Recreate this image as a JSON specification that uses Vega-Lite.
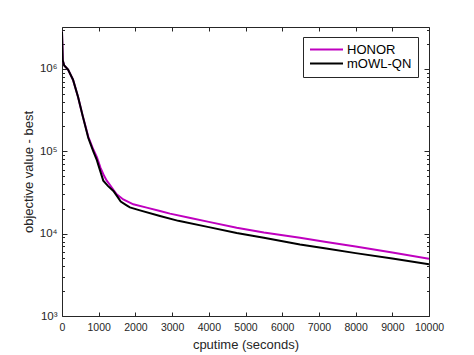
{
  "$schema": "https://vega.github.io/schema/vega-lite/v6.json",
  "width": 367,
  "height": 289,
  "autosize": "none",
  "padding": {"left": 62, "top": 27, "right": 45, "bottom": 39},
  "background": "white",
  "config": {
    "view": {"stroke": null},
    "font": "Liberation Sans",
    "axis": {
      "grid": false,
      "domainColor": "#262626",
      "tickColor": "#262626",
      "labelColor": "#262626",
      "titleColor": "#262626",
      "labelFont": "Liberation Sans",
      "titleFont": "Liberation Sans",
      "labelFontSize": 10.5,
      "titleFontSize": 13,
      "titleFontWeight": "normal",
      "labelFlush": false,
      "labelOverlap": false,
      "labelBound": false
    }
  },
  "data": {
    "values": [
      {"method": "HONOR", "t": 0, "v": 2830000},
      {"method": "HONOR", "t": 20, "v": 1270000},
      {"method": "HONOR", "t": 60, "v": 1100000},
      {"method": "HONOR", "t": 165, "v": 980000},
      {"method": "HONOR", "t": 300, "v": 740000},
      {"method": "HONOR", "t": 436, "v": 460000},
      {"method": "HONOR", "t": 572, "v": 260000},
      {"method": "HONOR", "t": 717, "v": 150000},
      {"method": "HONOR", "t": 853, "v": 105000},
      {"method": "HONOR", "t": 950, "v": 85000},
      {"method": "HONOR", "t": 1050, "v": 63000},
      {"method": "HONOR", "t": 1150, "v": 50000},
      {"method": "HONOR", "t": 1220, "v": 44000},
      {"method": "HONOR", "t": 1308, "v": 39000},
      {"method": "HONOR", "t": 1400, "v": 34000},
      {"method": "HONOR", "t": 1490, "v": 30000},
      {"method": "HONOR", "t": 1670, "v": 26000},
      {"method": "HONOR", "t": 1943, "v": 22700},
      {"method": "HONOR", "t": 2308, "v": 20700},
      {"method": "HONOR", "t": 2670, "v": 18800},
      {"method": "HONOR", "t": 2943, "v": 17500},
      {"method": "HONOR", "t": 3500, "v": 15500},
      {"method": "HONOR", "t": 4000, "v": 13900},
      {"method": "HONOR", "t": 4760, "v": 11800},
      {"method": "HONOR", "t": 5500, "v": 10300},
      {"method": "HONOR", "t": 6485, "v": 8900},
      {"method": "HONOR", "t": 7200, "v": 7900},
      {"method": "HONOR", "t": 8000, "v": 7000},
      {"method": "HONOR", "t": 9000, "v": 5900},
      {"method": "HONOR", "t": 10000, "v": 4950},
      {"method": "mOWL-QN", "t": 0, "v": 2830000},
      {"method": "mOWL-QN", "t": 20, "v": 1270000},
      {"method": "mOWL-QN", "t": 60, "v": 1100000},
      {"method": "mOWL-QN", "t": 165, "v": 980000},
      {"method": "mOWL-QN", "t": 300, "v": 740000},
      {"method": "mOWL-QN", "t": 436, "v": 460000},
      {"method": "mOWL-QN", "t": 572, "v": 260000},
      {"method": "mOWL-QN", "t": 717, "v": 145000},
      {"method": "mOWL-QN", "t": 853, "v": 100000},
      {"method": "mOWL-QN", "t": 950, "v": 78000},
      {"method": "mOWL-QN", "t": 1000, "v": 66000},
      {"method": "mOWL-QN", "t": 1125, "v": 44000},
      {"method": "mOWL-QN", "t": 1250, "v": 38000},
      {"method": "mOWL-QN", "t": 1400, "v": 33000},
      {"method": "mOWL-QN", "t": 1500, "v": 28500},
      {"method": "mOWL-QN", "t": 1600, "v": 24500},
      {"method": "mOWL-QN", "t": 1750, "v": 22200},
      {"method": "mOWL-QN", "t": 1850, "v": 20800},
      {"method": "mOWL-QN", "t": 2100, "v": 19300},
      {"method": "mOWL-QN", "t": 2670, "v": 16400},
      {"method": "mOWL-QN", "t": 3170, "v": 14300},
      {"method": "mOWL-QN", "t": 4000, "v": 12000},
      {"method": "mOWL-QN", "t": 4760, "v": 10200},
      {"method": "mOWL-QN", "t": 5500, "v": 8900},
      {"method": "mOWL-QN", "t": 6485, "v": 7400},
      {"method": "mOWL-QN", "t": 7200, "v": 6600},
      {"method": "mOWL-QN", "t": 8000, "v": 5800},
      {"method": "mOWL-QN", "t": 9000, "v": 5000},
      {"method": "mOWL-QN", "t": 10000, "v": 4250}
    ]
  },
  "layer": [
    {
      "mark": {"type": "line", "strokeWidth": 2, "clip": true},
      "encoding": {
        "x": {
          "field": "t", "type": "quantitative",
          "scale": {"domain": [0, 10000], "nice": false},
          "axis": {
            "orient": "bottom",
            "title": "cputime (seconds)",
            "values": [0, 1000, 2000, 3000, 4000, 5000, 6000, 7000, 8000, 9000, 10000],
            "format": "d",
            "tickSize": -4,
            "labelPadding": 10,
            "titlePadding": 6
          }
        },
        "y": {
          "field": "v", "type": "quantitative",
          "scale": {"type": "log", "domain": [1000, 3230000], "nice": false},
          "axis": {
            "orient": "left",
            "title": "objective value - best",
            "values": [1000, 2000, 3000, 4000, 5000, 6000, 7000, 8000, 9000, 10000, 20000, 30000, 40000, 50000, 60000, 70000, 80000, 90000, 100000, 200000, 300000, 400000, 500000, 600000, 700000, 800000, 900000, 1000000, 2000000, 3000000],
            "labelExpr": "datum.value == 1000 ? '10³' : datum.value == 10000 ? '10⁴' : datum.value == 100000 ? '10⁵' : datum.value == 1000000 ? '10⁶' : ''",
            "tickSize": {"condition": {"test": "datum.value == 1000 || datum.value == 10000 || datum.value == 100000 || datum.value == 1000000", "value": -5}, "value": -2.5},
            "labelPadding": 10,
            "labelFontSize": 11.5,
            "titlePadding": 4
          }
        },
        "color": {
          "field": "method", "type": "nominal",
          "scale": {"domain": ["HONOR", "mOWL-QN"], "range": ["#BF00BF", "#000000"]},
          "legend": {
            "orient": "none",
            "legendX": 241,
            "legendY": 10,
            "title": null,
            "symbolType": "M-3,0H3",
            "symbolSize": 121,
            "symbolStrokeWidth": 2,
            "symbolOffset": 11,
            "labelFont": "Liberation Sans",
            "labelFontSize": 13,
            "labelColor": "#000000",
            "labelOffset": 14,
            "rowPadding": 0,
            "padding": 6,
            "strokeColor": "#262626",
            "fillColor": "white"
          }
        }
      }
    },
    {
      "mark": {"type": "line", "opacity": 0},
      "encoding": {
        "x": {
          "field": "t", "type": "quantitative",
          "axis": {
            "orient": "top",
            "title": null,
            "labels": false,
            "values": [0, 1000, 2000, 3000, 4000, 5000, 6000, 7000, 8000, 9000, 10000],
            "tickSize": -4
          }
        },
        "y": {
          "field": "v", "type": "quantitative",
          "axis": {
            "orient": "right",
            "title": null,
            "labels": false,
            "values": [1000, 2000, 3000, 4000, 5000, 6000, 7000, 8000, 9000, 10000, 20000, 30000, 40000, 50000, 60000, 70000, 80000, 90000, 100000, 200000, 300000, 400000, 500000, 600000, 700000, 800000, 900000, 1000000, 2000000, 3000000],
            "tickSize": {"condition": {"test": "datum.value == 1000 || datum.value == 10000 || datum.value == 100000 || datum.value == 1000000", "value": -5}, "value": -2.5}
          }
        },
        "detail": {"field": "method", "type": "nominal"}
      }
    }
  ]
}
